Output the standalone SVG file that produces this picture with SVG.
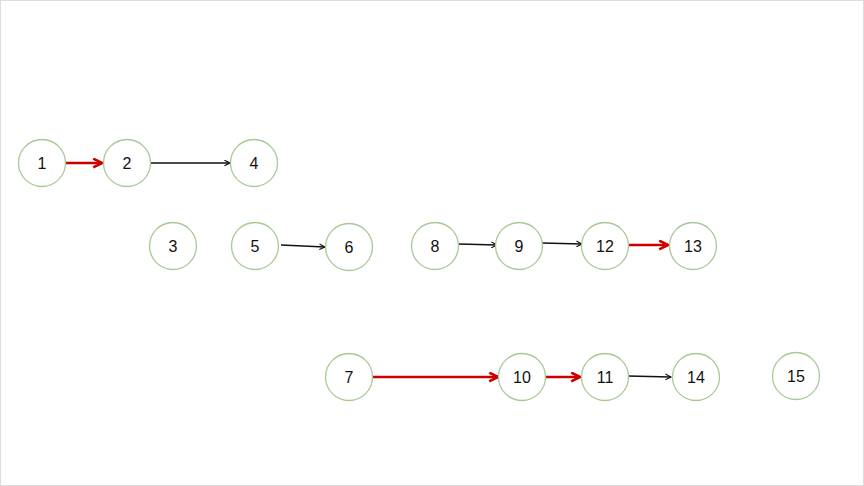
<svg xmlns="http://www.w3.org/2000/svg" width="864" height="486" viewBox="0 0 864 486">
<style>
.n circle{fill:#fff;stroke:#a8c896;stroke-width:1.3}
.n text{font-family:"Liberation Sans",Arial,sans-serif;font-size:16px;fill:#111;text-anchor:middle;dominant-baseline:central}
.k{stroke:#111;stroke-width:1.3;fill:none}
.r{stroke:#cc0000;stroke-width:2.6;fill:none}
</style>
<defs>
<marker id="ak" viewBox="0 0 10 10" refX="9" refY="5" markerWidth="7" markerHeight="7" markerUnits="userSpaceOnUse" orient="auto">
<path d="M1,1 L9,5 L1,9" fill="none" stroke="#111" stroke-width="1.6"/>
</marker>
<marker id="ar" viewBox="0 0 10 10" refX="9" refY="5" markerWidth="11" markerHeight="11" markerUnits="userSpaceOnUse" orient="auto">
<path d="M1,1 L9,5 L1,9" fill="none" stroke="#cc0000" stroke-width="2.4"/>
</marker>
</defs>
<rect x="0.5" y="0.5" width="863" height="485" fill="#fff" stroke="#ddd"/>
<g id="connectors">
<line class="r" x1="66" y1="163" x2="102" y2="163" marker-end="url(#ar)"/>
<line class="k" x1="151" y1="163" x2="230" y2="163" marker-end="url(#ak)"/>
<line class="k" x1="281" y1="245" x2="325" y2="247" marker-end="url(#ak)"/>
<line class="k" x1="459" y1="244" x2="497" y2="245" marker-end="url(#ak)"/>
<line class="k" x1="542" y1="243" x2="582" y2="244" marker-end="url(#ak)"/>
<line class="r" x1="629" y1="245" x2="668" y2="245" marker-end="url(#ar)"/>
<line class="r" x1="373" y1="377" x2="498" y2="377" marker-end="url(#ar)"/>
<line class="r" x1="546" y1="377" x2="580" y2="377" marker-end="url(#ar)"/>
<line class="k" x1="628" y1="376" x2="671" y2="377" marker-end="url(#ak)"/>
</g>
<g id="n1" class="n"><circle cx="42" cy="163" r="23.5"/><text x="42" y="163">1</text></g>
<g id="n2" class="n"><circle cx="127" cy="163" r="23.5"/><text x="127" y="163">2</text></g>
<g id="n4" class="n"><circle cx="254" cy="163" r="23.5"/><text x="254" y="163">4</text></g>
<g id="n3" class="n"><circle cx="173" cy="246" r="23.5"/><text x="173" y="246">3</text></g>
<g id="n5" class="n"><circle cx="255" cy="246" r="23.5"/><text x="255" y="246">5</text></g>
<g id="n6" class="n"><circle cx="349" cy="247" r="23.5"/><text x="349" y="247">6</text></g>
<g id="n8" class="n"><circle cx="435" cy="246" r="23.5"/><text x="435" y="246">8</text></g>
<g id="n9" class="n"><circle cx="519" cy="246" r="23.5"/><text x="519" y="246">9</text></g>
<g id="n12" class="n"><circle cx="605" cy="246" r="23.5"/><text x="605" y="246">12</text></g>
<g id="n13" class="n"><circle cx="693" cy="246" r="23.5"/><text x="693" y="246">13</text></g>
<g id="n7" class="n"><circle cx="349" cy="377" r="23.5"/><text x="349" y="377">7</text></g>
<g id="n10" class="n"><circle cx="522" cy="377" r="23.5"/><text x="522" y="377">10</text></g>
<g id="n11" class="n"><circle cx="605" cy="377" r="23.5"/><text x="605" y="377">11</text></g>
<g id="n14" class="n"><circle cx="696" cy="377" r="23.5"/><text x="696" y="377">14</text></g>
<g id="n15" class="n"><circle cx="796" cy="376" r="23.5"/><text x="796" y="376">15</text></g>
</svg>
